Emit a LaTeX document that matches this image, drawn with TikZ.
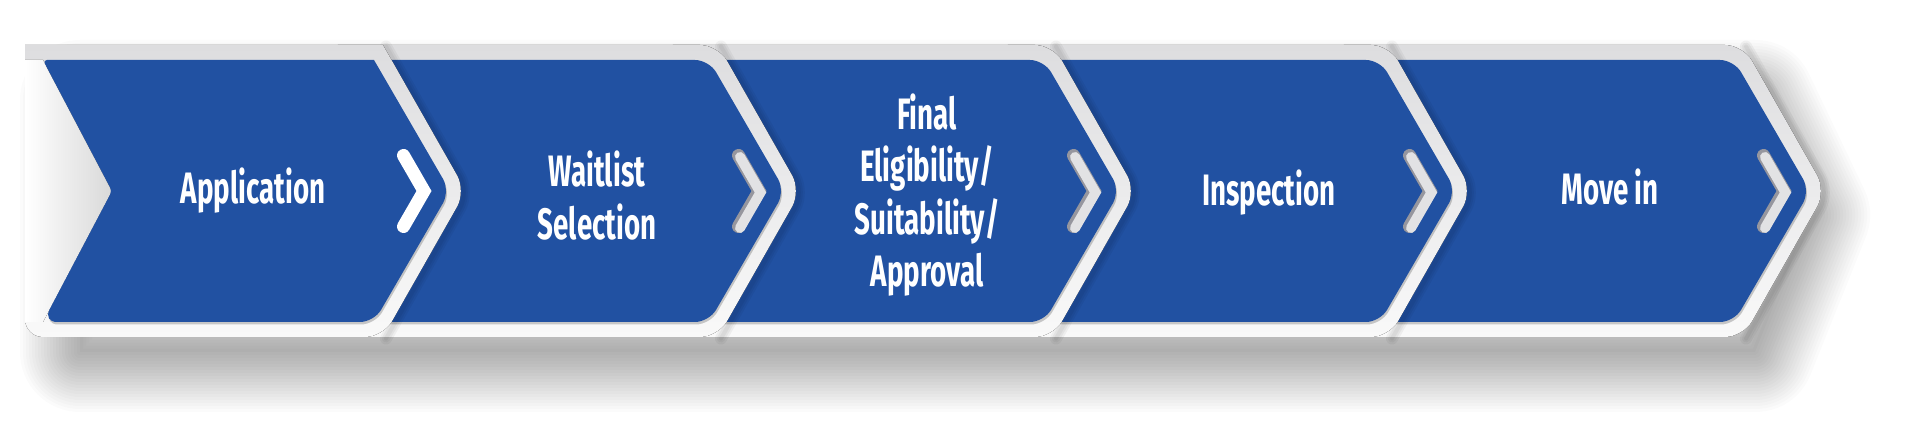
\documentclass[tikz,border=0pt]{standalone}
\usepackage{fontspec}
\newfontfamily\labfont[FakeStretch=0.63]{Fira Sans}
\definecolor{stepblue}{RGB}{33,81,162}
\definecolor{framegrey}{RGB}{221,221,223}
\definecolor{framelight}{RGB}{249,249,249}
\definecolor{grooveface}{RGB}{226,226,228}
\definecolor{grooveshade}{RGB}{150,150,158}
\tikzset{
  steplabel/.style={text=white, font=\labfont\bfseries\fontsize{44}{52.5}\selectfont, align=center, inner sep=0pt},
  framefill/.style={top color=framegrey, bottom color=framelight},
  chevmark/.style={line width=13pt, line cap=round, line join=miter},
  slantshadow/.style={black, opacity=0.045, line join=round, line cap=round},
}
\begin{document}
\begin{tikzpicture}[x=1pt,y=-1pt]
\useasboundingbox (0,0) rectangle (1920,443);
\fill[white] (0,0) rectangle (1920,443);
% soft shadow of the whole strip
\foreach \k in {1,...,20} {
  \pgfmathsetmacro\lw{\k*6}
  \draw[black, opacity=0.016, line width=\lw pt, line join=round]
    (80,100) -- (1755,100) -- (1810,215) -- (1755,352) -- (80,352) -- cycle;
}
\fill[black, opacity=0.02] (80,100) -- (1755,100) -- (1810,215) -- (1755,352) -- (80,352) -- cycle;
% chevrons 5 .. 2 (drawn right to left so each overlaps the next)
\foreach \T/\P in {1810/1456, 1456/1120, 1120/785, 785/450} {
  \pgfmathsetmacro\L{\P-120}
  \pgfmathsetmacro\F{\P-130}
  \begin{scope}[shift={(3,1.5)}]
    \foreach \w in {12,8,4}
      \draw[slantshadow, line width=\w pt, rounded corners=18pt]
        ({\T-67},45) -- ({\T+16},191) -- ({\T-67},337);
  \end{scope}
  \fill[framefill, rounded corners=18pt]
    (\F,45) -- ({\T-67},45) -- ({\T+16},191) -- ({\T-67},337) -- (\F,337) -- cycle;
  \fill[black, opacity=0.2, rounded corners=14pt, shift={(1,2.5)}]
    (\L,60) -- ({\T-76},60) -- (\T,191) -- ({\T-76},322) -- (\L,322) -- cycle;
  \fill[stepblue, rounded corners=14pt]
    (\L,60) -- ({\T-76},60) -- (\T,191) -- ({\T-76},322) -- (\L,322) -- cycle;
  \draw[chevmark, grooveshade] ({\T-46.5},155.5) -- ({\T-26},191) -- ({\T-46.5},226.5);
  \draw[chevmark, grooveface, line width=10pt, shift={(1.5,1.5)}]
    ({\T-46.5},155.5) -- ({\T-26},191) -- ({\T-46.5},226.5);
}
% chevron 1
\begin{scope}[shift={(3,1.5)}]
  \foreach \w in {12,8,4}
    \draw[slantshadow, line width=\w pt, rounded corners=18pt]
      (383,45) -- (466,191) -- (383,337);
\end{scope}
\fill[framefill] (25,45) -- (383,45) [rounded corners=18pt] -- (466,191) -- (383,337) -- (25,337) [sharp corners] -- cycle;
\fill[left color=white, right color=gray!30] (25,60) -- (43,60) -- (112,191) -- (43,322) -- (25,322) -- cycle;
\fill[black, opacity=0.2, shift={(1,2.5)}] (43,60) -- (374,60) [rounded corners=14pt] -- (450,191) -- (374,322) -- (43,322) [rounded corners=4pt] -- (112,191) -- cycle;
\fill[stepblue] (43,60) -- (374,60) [rounded corners=14pt] -- (450,191) -- (374,322) -- (43,322) [rounded corners=4pt] -- (112,191) -- cycle;
\draw[chevmark, white] (403.5,155.5) -- (424,191) -- (403.5,226.5);
% labels
\node[steplabel, anchor=base] (s1) at (253,204) {Application};
\node[steplabel] (s2) at (597,195.5) {Waitlist\\Selection};
\node[steplabel] (s3) at (927,195) {Final\\Eligibility/\\Suitability/\\Approval};
\node[steplabel, anchor=base] (s4) at (1269,206) {Inspection};
\node[steplabel, anchor=base] (s5) at (1610,205) {Move in};
\end{tikzpicture}
\end{document}
